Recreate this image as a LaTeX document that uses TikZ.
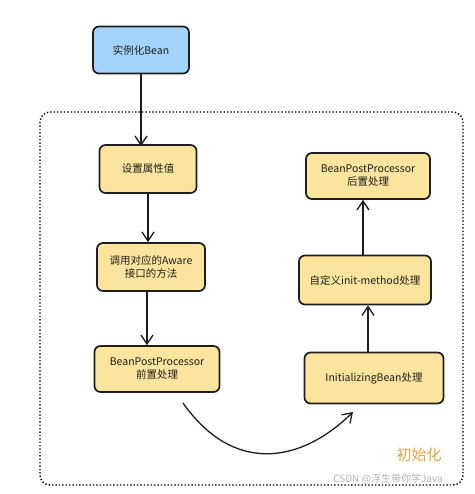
\documentclass[tikz,border=0pt]{standalone}
\usepackage{fontspec}
\newfontfamily\cjk{Noto Sans CJK SC}
\usetikzlibrary{arrows.meta}
\usetikzlibrary{positioning}

\definecolor{boxyellow}{HTML}{FBE49D}
\definecolor{boxblue}{HTML}{A3D4FB}
\definecolor{inkgray}{HTML}{1E1E1E}
\definecolor{initorange}{HTML}{E6A23E}

\tikzset{
  stepbox/.style={draw=inkgray, line width=1.7pt, rounded corners=6pt, fill=boxyellow,
    align=center, font=\cjk\fontsize{10.5}{13}\selectfont, text=inkgray, inner sep=0pt},
  flow/.style={draw=inkgray, line width=1.3pt, -{Straight Barb[length=9pt,width=12pt,line width=1.3pt]}}
}

\begin{document}
\begin{tikzpicture}[x=1pt, y=-1pt]
        \useasboundingbox (0,0) rectangle (474,494);

        % frame of the init stage
        \draw[dotted, line width=1.4pt, rounded corners=10pt] (40,112) rectangle (463,485);

        \node[stepbox, fill=boxblue, minimum width=96pt, minimum height=47pt] (inst) at (141,50) {实例化Bean};
        \node[stepbox, minimum width=97pt, minimum height=48pt] (props) at (148,169) {设置属性值};
        \node[stepbox, minimum width=108pt, minimum height=48pt] (aware) at (151,267) {调用对应的Aware\\接口的方法};
        \node[stepbox, minimum width=125pt, minimum height=46pt] (pre) at (157,369) {BeanPostProcessor\\前置处理};
        \node[stepbox, minimum width=139pt, minimum height=51pt] (initbean) at (374,378) {InitializingBean处理};
        \node[stepbox, minimum width=132pt, minimum height=49pt] (initmethod) at (365,280) {自定义init-method处理};
        \node[stepbox, minimum width=124pt, minimum height=46pt] (post) at (368,176) {BeanPostProcessor\\后置处理};

        \node[font=\cjk\fontsize{15}{18}\selectfont, text=initorange] (stage) at (419,455) {初始化};
        \node[font=\cjk\fontsize{10}{12}\selectfont, text=gray!60, inner sep=0pt] (mark) at (388,479) {CSDN @浮生带你学Java};

        \coordinate (curvestart) at (183,403);
        \coordinate (curveend) at (353,412);

        \draw
        (inst.south) edge[flow] ([yshift=-2pt]props.north -| inst.south)
        (props.south) edge[flow] ([xshift=-3pt]aware.north)
        ([xshift=-4pt]aware.south) edge[flow] ([xshift=-4pt]aware.south |- pre.north)
        ([xshift=-6pt]initbean.north) edge[flow] ([xshift=-6pt]initbean.north |- initmethod.south)
        ([xshift=-2pt]initmethod.north) edge[flow] ([xshift=-2pt]initmethod.north |- post.south);

        \draw[flow] (curvestart) .. controls (233,474) and (300,464) .. (curveend);
      \end{tikzpicture}
\end{document}
